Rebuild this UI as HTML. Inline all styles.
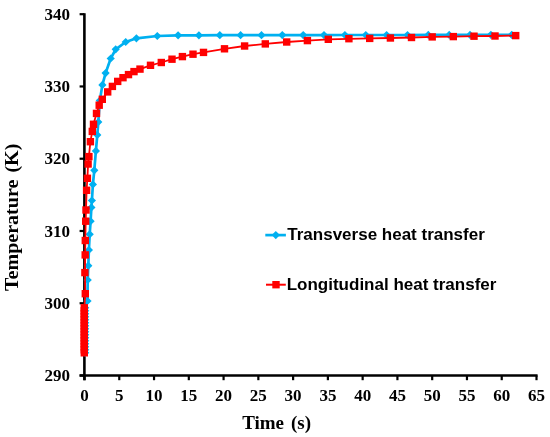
<!DOCTYPE html>
<html><head><meta charset="utf-8"><title>Temperature vs Time</title>
<style>
html,body{margin:0;padding:0;background:#fff;}
body{width:550px;height:437px;overflow:hidden;}
svg{display:block;}
.tk{font-family:"Liberation Serif",serif;font-weight:bold;font-size:17px;fill:#000;}
.al{font-family:"Liberation Serif",serif;font-weight:bold;font-size:19px;fill:#000;}
.lg{font-family:"Liberation Sans",sans-serif;font-weight:bold;font-size:17px;fill:#000;}
</style></head><body>
<svg width="550" height="437" viewBox="0 0 550 437">
<rect width="550" height="437" fill="#fff"/>
<path d="M84.4 13.3V380.2" stroke="#000" stroke-width="2.6" fill="none"/>
<path d="M79.6 375.5H537.6" stroke="#000" stroke-width="2.6" fill="none"/>
<path d="M79.6 14.20H84.4" stroke="#000" stroke-width="2.2"/>
<text x="69.9" y="19.90" text-anchor="end" class="tk">340</text>
<path d="M79.6 86.46H84.4" stroke="#000" stroke-width="2.2"/>
<text x="69.9" y="92.16" text-anchor="end" class="tk">330</text>
<path d="M79.6 158.72H84.4" stroke="#000" stroke-width="2.2"/>
<text x="69.9" y="164.42" text-anchor="end" class="tk">320</text>
<path d="M79.6 230.98H84.4" stroke="#000" stroke-width="2.2"/>
<text x="69.9" y="236.68" text-anchor="end" class="tk">310</text>
<path d="M79.6 303.24H84.4" stroke="#000" stroke-width="2.2"/>
<text x="69.9" y="308.94" text-anchor="end" class="tk">300</text>
<path d="M79.6 375.50H84.4" stroke="#000" stroke-width="2.2"/>
<text x="69.9" y="381.20" text-anchor="end" class="tk">290</text>
<path d="M84.50 375.5V380.2" stroke="#000" stroke-width="2.2"/>
<text x="84.50" y="401.3" text-anchor="middle" class="tk">0</text>
<path d="M119.27 375.5V380.2" stroke="#000" stroke-width="2.2"/>
<text x="119.27" y="401.3" text-anchor="middle" class="tk">5</text>
<path d="M154.04 375.5V380.2" stroke="#000" stroke-width="2.2"/>
<text x="154.04" y="401.3" text-anchor="middle" class="tk">10</text>
<path d="M188.81 375.5V380.2" stroke="#000" stroke-width="2.2"/>
<text x="188.81" y="401.3" text-anchor="middle" class="tk">15</text>
<path d="M223.58 375.5V380.2" stroke="#000" stroke-width="2.2"/>
<text x="223.58" y="401.3" text-anchor="middle" class="tk">20</text>
<path d="M258.35 375.5V380.2" stroke="#000" stroke-width="2.2"/>
<text x="258.35" y="401.3" text-anchor="middle" class="tk">25</text>
<path d="M293.12 375.5V380.2" stroke="#000" stroke-width="2.2"/>
<text x="293.12" y="401.3" text-anchor="middle" class="tk">30</text>
<path d="M327.88 375.5V380.2" stroke="#000" stroke-width="2.2"/>
<text x="327.88" y="401.3" text-anchor="middle" class="tk">35</text>
<path d="M362.65 375.5V380.2" stroke="#000" stroke-width="2.2"/>
<text x="362.65" y="401.3" text-anchor="middle" class="tk">40</text>
<path d="M397.42 375.5V380.2" stroke="#000" stroke-width="2.2"/>
<text x="397.42" y="401.3" text-anchor="middle" class="tk">45</text>
<path d="M432.19 375.5V380.2" stroke="#000" stroke-width="2.2"/>
<text x="432.19" y="401.3" text-anchor="middle" class="tk">50</text>
<path d="M466.96 375.5V380.2" stroke="#000" stroke-width="2.2"/>
<text x="466.96" y="401.3" text-anchor="middle" class="tk">55</text>
<path d="M501.73 375.5V380.2" stroke="#000" stroke-width="2.2"/>
<text x="501.73" y="401.3" text-anchor="middle" class="tk">60</text>
<path d="M536.50 375.5V380.2" stroke="#000" stroke-width="2.2"/>
<text x="536.50" y="401.3" text-anchor="middle" class="tk">65</text>
<polyline points="85.2,352.8 85.2,349.8 85.2,346.8 85.2,343.8 85.2,340.8 85.2,337.8 85.2,334.8 85.2,331.8 85.2,328.8 85.2,325.8 85.2,322.8 85.2,319.8 85.2,316.8 85.2,313.8 85.2,310.8 85.2,307.8 87.5,301.0 87.7,280.0 88.3,265.7 88.9,250.0 89.7,234.3 90.6,221.2 91.4,207.4 91.9,200.5 92.9,184.4 94.3,170.3 95.9,150.9 97.3,134.9 98.3,122.0 99.8,100.6 102.4,84.9 105.6,73.1 110.7,58.5 115.7,49.3 125.7,42.0 136.4,38.3 157.3,36.0 178.1,35.3 198.9,35.3 219.8,35.2 240.6,35.2 261.5,35.2 282.3,35.1 303.2,35.1 324.0,35.1 344.9,35.0 365.8,35.0 386.6,35.0 407.5,35.0 428.3,34.9 449.2,34.9 470.0,34.9 490.9,34.8 511.7,34.8" fill="none" stroke="#00b0f0" stroke-width="2.7" stroke-linejoin="round"/>
<path d="M85.2 348.7L89.3 352.8L85.2 356.9L81.1 352.8Z" fill="#00b0f0"/>
<path d="M85.2 345.7L89.3 349.8L85.2 353.9L81.1 349.8Z" fill="#00b0f0"/>
<path d="M85.2 342.7L89.3 346.8L85.2 350.9L81.1 346.8Z" fill="#00b0f0"/>
<path d="M85.2 339.7L89.3 343.8L85.2 347.9L81.1 343.8Z" fill="#00b0f0"/>
<path d="M85.2 336.7L89.3 340.8L85.2 344.9L81.1 340.8Z" fill="#00b0f0"/>
<path d="M85.2 333.7L89.3 337.8L85.2 341.9L81.1 337.8Z" fill="#00b0f0"/>
<path d="M85.2 330.7L89.3 334.8L85.2 338.9L81.1 334.8Z" fill="#00b0f0"/>
<path d="M85.2 327.7L89.3 331.8L85.2 335.9L81.1 331.8Z" fill="#00b0f0"/>
<path d="M85.2 324.7L89.3 328.8L85.2 332.9L81.1 328.8Z" fill="#00b0f0"/>
<path d="M85.2 321.7L89.3 325.8L85.2 329.9L81.1 325.8Z" fill="#00b0f0"/>
<path d="M85.2 318.7L89.3 322.8L85.2 326.9L81.1 322.8Z" fill="#00b0f0"/>
<path d="M85.2 315.7L89.3 319.8L85.2 323.9L81.1 319.8Z" fill="#00b0f0"/>
<path d="M85.2 312.7L89.3 316.8L85.2 320.9L81.1 316.8Z" fill="#00b0f0"/>
<path d="M85.2 309.7L89.3 313.8L85.2 317.9L81.1 313.8Z" fill="#00b0f0"/>
<path d="M85.2 306.7L89.3 310.8L85.2 314.9L81.1 310.8Z" fill="#00b0f0"/>
<path d="M85.2 303.7L89.3 307.8L85.2 311.9L81.1 307.8Z" fill="#00b0f0"/>
<path d="M87.5 296.9L91.6 301.0L87.5 305.1L83.4 301.0Z" fill="#00b0f0"/>
<path d="M87.7 275.9L91.8 280.0L87.7 284.1L83.6 280.0Z" fill="#00b0f0"/>
<path d="M88.3 261.6L92.4 265.7L88.3 269.8L84.2 265.7Z" fill="#00b0f0"/>
<path d="M88.9 245.9L93.0 250.0L88.9 254.1L84.8 250.0Z" fill="#00b0f0"/>
<path d="M89.7 230.2L93.8 234.3L89.7 238.4L85.6 234.3Z" fill="#00b0f0"/>
<path d="M90.6 217.1L94.7 221.2L90.6 225.3L86.5 221.2Z" fill="#00b0f0"/>
<path d="M91.4 203.3L95.5 207.4L91.4 211.5L87.3 207.4Z" fill="#00b0f0"/>
<path d="M91.9 196.4L96.0 200.5L91.9 204.6L87.8 200.5Z" fill="#00b0f0"/>
<path d="M92.9 180.3L97.0 184.4L92.9 188.5L88.8 184.4Z" fill="#00b0f0"/>
<path d="M94.3 166.2L98.4 170.3L94.3 174.4L90.2 170.3Z" fill="#00b0f0"/>
<path d="M95.9 146.8L100.0 150.9L95.9 155.0L91.8 150.9Z" fill="#00b0f0"/>
<path d="M97.3 130.8L101.4 134.9L97.3 139.0L93.2 134.9Z" fill="#00b0f0"/>
<path d="M98.3 117.9L102.4 122.0L98.3 126.1L94.2 122.0Z" fill="#00b0f0"/>
<path d="M99.8 96.5L103.9 100.6L99.8 104.7L95.7 100.6Z" fill="#00b0f0"/>
<path d="M102.4 80.8L106.5 84.9L102.4 89.0L98.3 84.9Z" fill="#00b0f0"/>
<path d="M105.6 69.0L109.7 73.1L105.6 77.2L101.5 73.1Z" fill="#00b0f0"/>
<path d="M110.7 54.4L114.8 58.5L110.7 62.6L106.6 58.5Z" fill="#00b0f0"/>
<path d="M115.7 45.2L119.8 49.3L115.7 53.4L111.6 49.3Z" fill="#00b0f0"/>
<path d="M125.7 37.9L129.8 42.0L125.7 46.1L121.6 42.0Z" fill="#00b0f0"/>
<path d="M136.4 34.2L140.5 38.3L136.4 42.4L132.3 38.3Z" fill="#00b0f0"/>
<path d="M157.3 31.9L161.4 36.0L157.3 40.1L153.2 36.0Z" fill="#00b0f0"/>
<path d="M178.1 31.2L182.2 35.3L178.1 39.4L174.0 35.3Z" fill="#00b0f0"/>
<path d="M198.9 31.2L203.0 35.3L198.9 39.4L194.8 35.3Z" fill="#00b0f0"/>
<path d="M219.8 31.1L223.9 35.2L219.8 39.3L215.7 35.2Z" fill="#00b0f0"/>
<path d="M240.6 31.1L244.7 35.2L240.6 39.3L236.5 35.2Z" fill="#00b0f0"/>
<path d="M261.5 31.1L265.6 35.2L261.5 39.3L257.4 35.2Z" fill="#00b0f0"/>
<path d="M282.3 31.0L286.4 35.1L282.3 39.2L278.2 35.1Z" fill="#00b0f0"/>
<path d="M303.2 31.0L307.3 35.1L303.2 39.2L299.1 35.1Z" fill="#00b0f0"/>
<path d="M324.0 31.0L328.1 35.1L324.0 39.2L319.9 35.1Z" fill="#00b0f0"/>
<path d="M344.9 30.9L349.0 35.0L344.9 39.1L340.8 35.0Z" fill="#00b0f0"/>
<path d="M365.8 30.9L369.9 35.0L365.8 39.1L361.7 35.0Z" fill="#00b0f0"/>
<path d="M386.6 30.9L390.7 35.0L386.6 39.1L382.5 35.0Z" fill="#00b0f0"/>
<path d="M407.5 30.9L411.6 35.0L407.5 39.1L403.4 35.0Z" fill="#00b0f0"/>
<path d="M428.3 30.8L432.4 34.9L428.3 39.0L424.2 34.9Z" fill="#00b0f0"/>
<path d="M449.2 30.8L453.3 34.9L449.2 39.0L445.1 34.9Z" fill="#00b0f0"/>
<path d="M470.0 30.8L474.1 34.9L470.0 39.0L465.9 34.9Z" fill="#00b0f0"/>
<path d="M490.9 30.7L495.0 34.8L490.9 38.9L486.8 34.8Z" fill="#00b0f0"/>
<path d="M511.7 30.7L515.8 34.8L511.7 38.9L507.6 34.8Z" fill="#00b0f0"/>
<polyline points="84.3,352.8 84.3,349.8 84.3,346.8 84.3,343.8 84.3,340.8 84.3,337.8 84.3,334.8 84.3,331.8 84.3,328.8 84.3,325.8 84.3,322.8 84.3,319.8 84.3,316.8 84.3,313.8 84.3,310.8 84.3,307.8 85.3,293.7 84.9,272.6 85.2,254.9 85.3,240.5 85.7,221.2 86.0,210.0 86.6,190.3 87.4,178.3 88.1,164.0 88.9,156.6 90.4,141.7 92.3,131.4 93.5,124.3 96.5,113.4 99.2,105.2 102.3,99.3 107.7,91.9 112.4,86.4 117.7,81.4 123.0,77.7 128.5,74.6 134.0,71.6 140.0,69.1 150.5,65.3 161.3,62.5 172.0,59.2 182.4,56.6 193.0,54.2 203.5,52.4 224.5,48.8 244.6,46.0 265.3,43.9 286.7,42.0 307.4,40.6 328.3,39.3 348.9,38.8 369.7,38.4 390.4,38.0 411.5,37.5 432.2,36.9 453.3,36.6 474.0,36.2 495.0,36.0 515.7,35.6" fill="none" stroke="#ff0000" stroke-width="1.8" stroke-linejoin="round"/>
<rect x="80.6" y="349.1" width="7.4" height="7.4" fill="#ff0000"/>
<rect x="80.6" y="346.1" width="7.4" height="7.4" fill="#ff0000"/>
<rect x="80.6" y="343.1" width="7.4" height="7.4" fill="#ff0000"/>
<rect x="80.6" y="340.1" width="7.4" height="7.4" fill="#ff0000"/>
<rect x="80.6" y="337.1" width="7.4" height="7.4" fill="#ff0000"/>
<rect x="80.6" y="334.1" width="7.4" height="7.4" fill="#ff0000"/>
<rect x="80.6" y="331.1" width="7.4" height="7.4" fill="#ff0000"/>
<rect x="80.6" y="328.1" width="7.4" height="7.4" fill="#ff0000"/>
<rect x="80.6" y="325.1" width="7.4" height="7.4" fill="#ff0000"/>
<rect x="80.6" y="322.1" width="7.4" height="7.4" fill="#ff0000"/>
<rect x="80.6" y="319.1" width="7.4" height="7.4" fill="#ff0000"/>
<rect x="80.6" y="316.1" width="7.4" height="7.4" fill="#ff0000"/>
<rect x="80.6" y="313.1" width="7.4" height="7.4" fill="#ff0000"/>
<rect x="80.6" y="310.1" width="7.4" height="7.4" fill="#ff0000"/>
<rect x="80.6" y="307.1" width="7.4" height="7.4" fill="#ff0000"/>
<rect x="80.6" y="304.1" width="7.4" height="7.4" fill="#ff0000"/>
<rect x="81.6" y="290.0" width="7.4" height="7.4" fill="#ff0000"/>
<rect x="81.2" y="268.9" width="7.4" height="7.4" fill="#ff0000"/>
<rect x="81.5" y="251.2" width="7.4" height="7.4" fill="#ff0000"/>
<rect x="81.6" y="236.8" width="7.4" height="7.4" fill="#ff0000"/>
<rect x="82.0" y="217.5" width="7.4" height="7.4" fill="#ff0000"/>
<rect x="82.3" y="206.3" width="7.4" height="7.4" fill="#ff0000"/>
<rect x="82.9" y="186.6" width="7.4" height="7.4" fill="#ff0000"/>
<rect x="83.7" y="174.6" width="7.4" height="7.4" fill="#ff0000"/>
<rect x="84.4" y="160.3" width="7.4" height="7.4" fill="#ff0000"/>
<rect x="85.2" y="152.9" width="7.4" height="7.4" fill="#ff0000"/>
<rect x="86.7" y="138.0" width="7.4" height="7.4" fill="#ff0000"/>
<rect x="88.6" y="127.7" width="7.4" height="7.4" fill="#ff0000"/>
<rect x="89.8" y="120.6" width="7.4" height="7.4" fill="#ff0000"/>
<rect x="92.8" y="109.7" width="7.4" height="7.4" fill="#ff0000"/>
<rect x="95.5" y="101.5" width="7.4" height="7.4" fill="#ff0000"/>
<rect x="98.6" y="95.6" width="7.4" height="7.4" fill="#ff0000"/>
<rect x="104.0" y="88.2" width="7.4" height="7.4" fill="#ff0000"/>
<rect x="108.7" y="82.7" width="7.4" height="7.4" fill="#ff0000"/>
<rect x="114.0" y="77.7" width="7.4" height="7.4" fill="#ff0000"/>
<rect x="119.3" y="74.0" width="7.4" height="7.4" fill="#ff0000"/>
<rect x="124.8" y="70.9" width="7.4" height="7.4" fill="#ff0000"/>
<rect x="130.3" y="67.9" width="7.4" height="7.4" fill="#ff0000"/>
<rect x="136.3" y="65.4" width="7.4" height="7.4" fill="#ff0000"/>
<rect x="146.8" y="61.6" width="7.4" height="7.4" fill="#ff0000"/>
<rect x="157.6" y="58.8" width="7.4" height="7.4" fill="#ff0000"/>
<rect x="168.3" y="55.5" width="7.4" height="7.4" fill="#ff0000"/>
<rect x="178.7" y="52.9" width="7.4" height="7.4" fill="#ff0000"/>
<rect x="189.3" y="50.5" width="7.4" height="7.4" fill="#ff0000"/>
<rect x="199.8" y="48.7" width="7.4" height="7.4" fill="#ff0000"/>
<rect x="220.8" y="45.1" width="7.4" height="7.4" fill="#ff0000"/>
<rect x="240.9" y="42.3" width="7.4" height="7.4" fill="#ff0000"/>
<rect x="261.6" y="40.2" width="7.4" height="7.4" fill="#ff0000"/>
<rect x="283.0" y="38.3" width="7.4" height="7.4" fill="#ff0000"/>
<rect x="303.7" y="36.9" width="7.4" height="7.4" fill="#ff0000"/>
<rect x="324.6" y="35.6" width="7.4" height="7.4" fill="#ff0000"/>
<rect x="345.2" y="35.0" width="7.4" height="7.4" fill="#ff0000"/>
<rect x="366.0" y="34.7" width="7.4" height="7.4" fill="#ff0000"/>
<rect x="386.7" y="34.3" width="7.4" height="7.4" fill="#ff0000"/>
<rect x="407.8" y="33.8" width="7.4" height="7.4" fill="#ff0000"/>
<rect x="428.5" y="33.2" width="7.4" height="7.4" fill="#ff0000"/>
<rect x="449.6" y="32.9" width="7.4" height="7.4" fill="#ff0000"/>
<rect x="470.3" y="32.5" width="7.4" height="7.4" fill="#ff0000"/>
<rect x="491.3" y="32.3" width="7.4" height="7.4" fill="#ff0000"/>
<rect x="512.0" y="31.9" width="7.4" height="7.4" fill="#ff0000"/>
<text x="276.6" y="429.3" text-anchor="middle" class="al" style="word-spacing:2.2px">Time (s)</text>
<text transform="translate(18.2 217.3) rotate(-90) scale(1.055 1)" text-anchor="middle" class="al" style="word-spacing:2px">Temperature (K)</text>
<path d="M265.3 235.1H285.9" stroke="#00b0f0" stroke-width="2.7"/>
<path d="M275.8 230.9L279.9 235.1L275.8 239.3L271.7 235.1Z" fill="#00b0f0"/>
<text x="287.3" y="240.4" class="lg">Transverse heat transfer</text>
<path d="M266 284.7H285.8" stroke="#ff0000" stroke-width="2"/>
<rect x="272.3" y="281" width="7.4" height="7.4" fill="#ff0000"/>
<text x="286.7" y="290.3" class="lg">Longitudinal heat transfer</text>
</svg>
</body></html>
